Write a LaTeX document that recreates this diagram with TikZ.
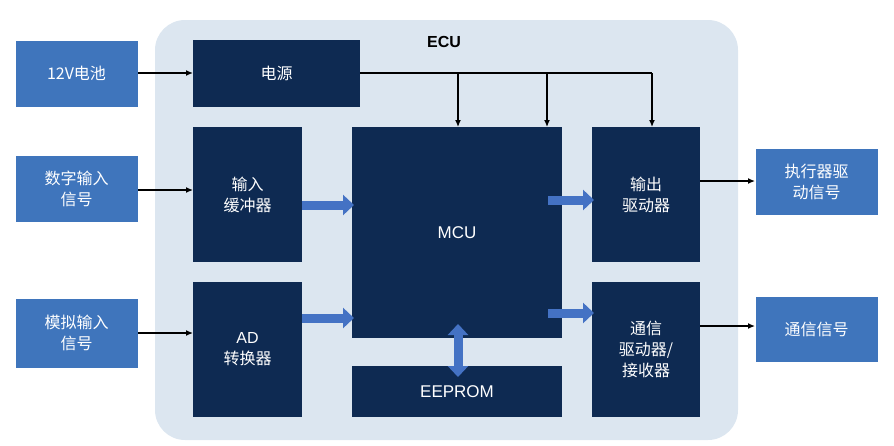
\documentclass[tikz,border=0pt]{standalone}
\usepackage{fontspec}
\setmainfont{Noto Sans CJK SC}
\newfontfamily\lat{Liberation Sans}
\usetikzlibrary{arrows.meta}
\definecolor{bgc}{HTML}{DCE6F0}
\definecolor{navy}{HTML}{0E2A52}
\definecolor{mblue}{HTML}{3F75BC}
\definecolor{barr}{HTML}{4472C4}
\begin{document}
\begin{tikzpicture}[x=1pt,y=-1pt,
 dk/.style={fill=navy,text=white,font=\fontsize{16}{21}\selectfont,align=center,inner sep=0},
 lt/.style={fill=mblue,draw=white,line width=0.6pt,text=white,font=\fontsize{16}{21}\selectfont,align=center,inner sep=0},
 ln/.style={-{Latex[length=7,width=6]},line width=1.3pt,black},
 ba/.style={line width=9pt,barr,-{Triangle[width=20pt,length=11pt]}}]
\useasboundingbox (0,0) rectangle (894,445);
\fill[bgc,rounded corners=30] (155,20) rectangle (738,440);
\node[font=\lat\bfseries\fontsize{16}{19}\selectfont] (ecu) at (444,42) {ECU};
\def\bx#1#2#3#4#5#6#7{\path[#2] (#3,#4) rectangle (#5,#6) node[midway,#2,fill=none,draw=none] (#1) {#7};
 \coordinate (#1-nw) at (#3,#4); \coordinate (#1-se) at (#5,#6);}
\path[lt] (15,40) rectangle (138,107) node[midway,draw=none,fill=none] (bat) {12V电池};
\path[lt] (15,155) rectangle (138,222) node[midway,draw=none,fill=none] (dig) {数字输入\\信号};
\path[lt] (15,298) rectangle (138,368) node[midway,draw=none,fill=none] (ana) {模拟输入\\信号};
\path[lt] (755,148) rectangle (878,215) node[midway,draw=none,fill=none] (act) {执行器驱\\动信号};
\path[lt] (755,296) rectangle (878,362) node[midway,draw=none,fill=none] (com) {通信信号};
\path[dk] (193,40) rectangle (360,107) node[midway,fill=none] (pwr) {电源};
\path[dk] (193,127) rectangle (302,262) node[midway,fill=none] (inb) {输入\\缓冲器};
\path[dk] (193,282) rectangle (302,417) node[midway,fill=none] (adc) {\lat AD\\转换器};
\path[dk] (352,127) rectangle (562,338) node[midway,fill=none,font=\lat\fontsize{17}{21}\selectfont] (mcu) {MCU};
\path[dk] (352,366) rectangle (562,417) node[midway,fill=none,font=\lat\fontsize{17}{21}\selectfont] (eep) {EEPROM};
\path[dk] (592,127) rectangle (700,262) node[midway,fill=none] (out) {输出\\驱动器};
\path[dk] (592,282) rectangle (700,417) node[midway,fill=none] (cdr) {通信\\驱动器/\\接收器};
\coordinate (a1) at (138,73); \coordinate (a2) at (193,73);
\draw[ln] (a1) -- (a2);
\coordinate (d1) at (138,190); \coordinate (d2) at (193,190);
\draw[ln] (d1) -- (d2);
\coordinate (m1) at (138,333); \coordinate (m2) at (193,333);
\draw[ln] (m1) -- (m2);
\coordinate (p0) at (360,73); \coordinate (p1) at (652,73);
\coordinate (pa) at (458,73); \coordinate (pb) at (547,73);
\draw[line width=1.3pt] (p0) -- (p1);
\draw[ln] (p1) -- (652,127);
\draw[ln] (pa) -- (458,127);
\draw[ln] (pb) -- (547,127);
\coordinate (o1) at (700,181); \coordinate (o2) at (755,181);
\draw[ln] (o1) -- (o2);
\coordinate (c1) at (700,326); \coordinate (c2) at (755,326);
\draw[ln] (c1) -- (c2);
\draw[ba] (302,205) -- (354,205);
\draw[ba] (302,318) -- (354,318);
\draw[ba] (548,200) -- (594,200);
\draw[ba] (548,313) -- (594,313);
\draw[line width=9pt,barr,{Triangle[width=20pt,length=11pt]}-{Triangle[width=20pt,length=11pt]}] (458,324) -- (458,377);
\end{tikzpicture}
\end{document}
